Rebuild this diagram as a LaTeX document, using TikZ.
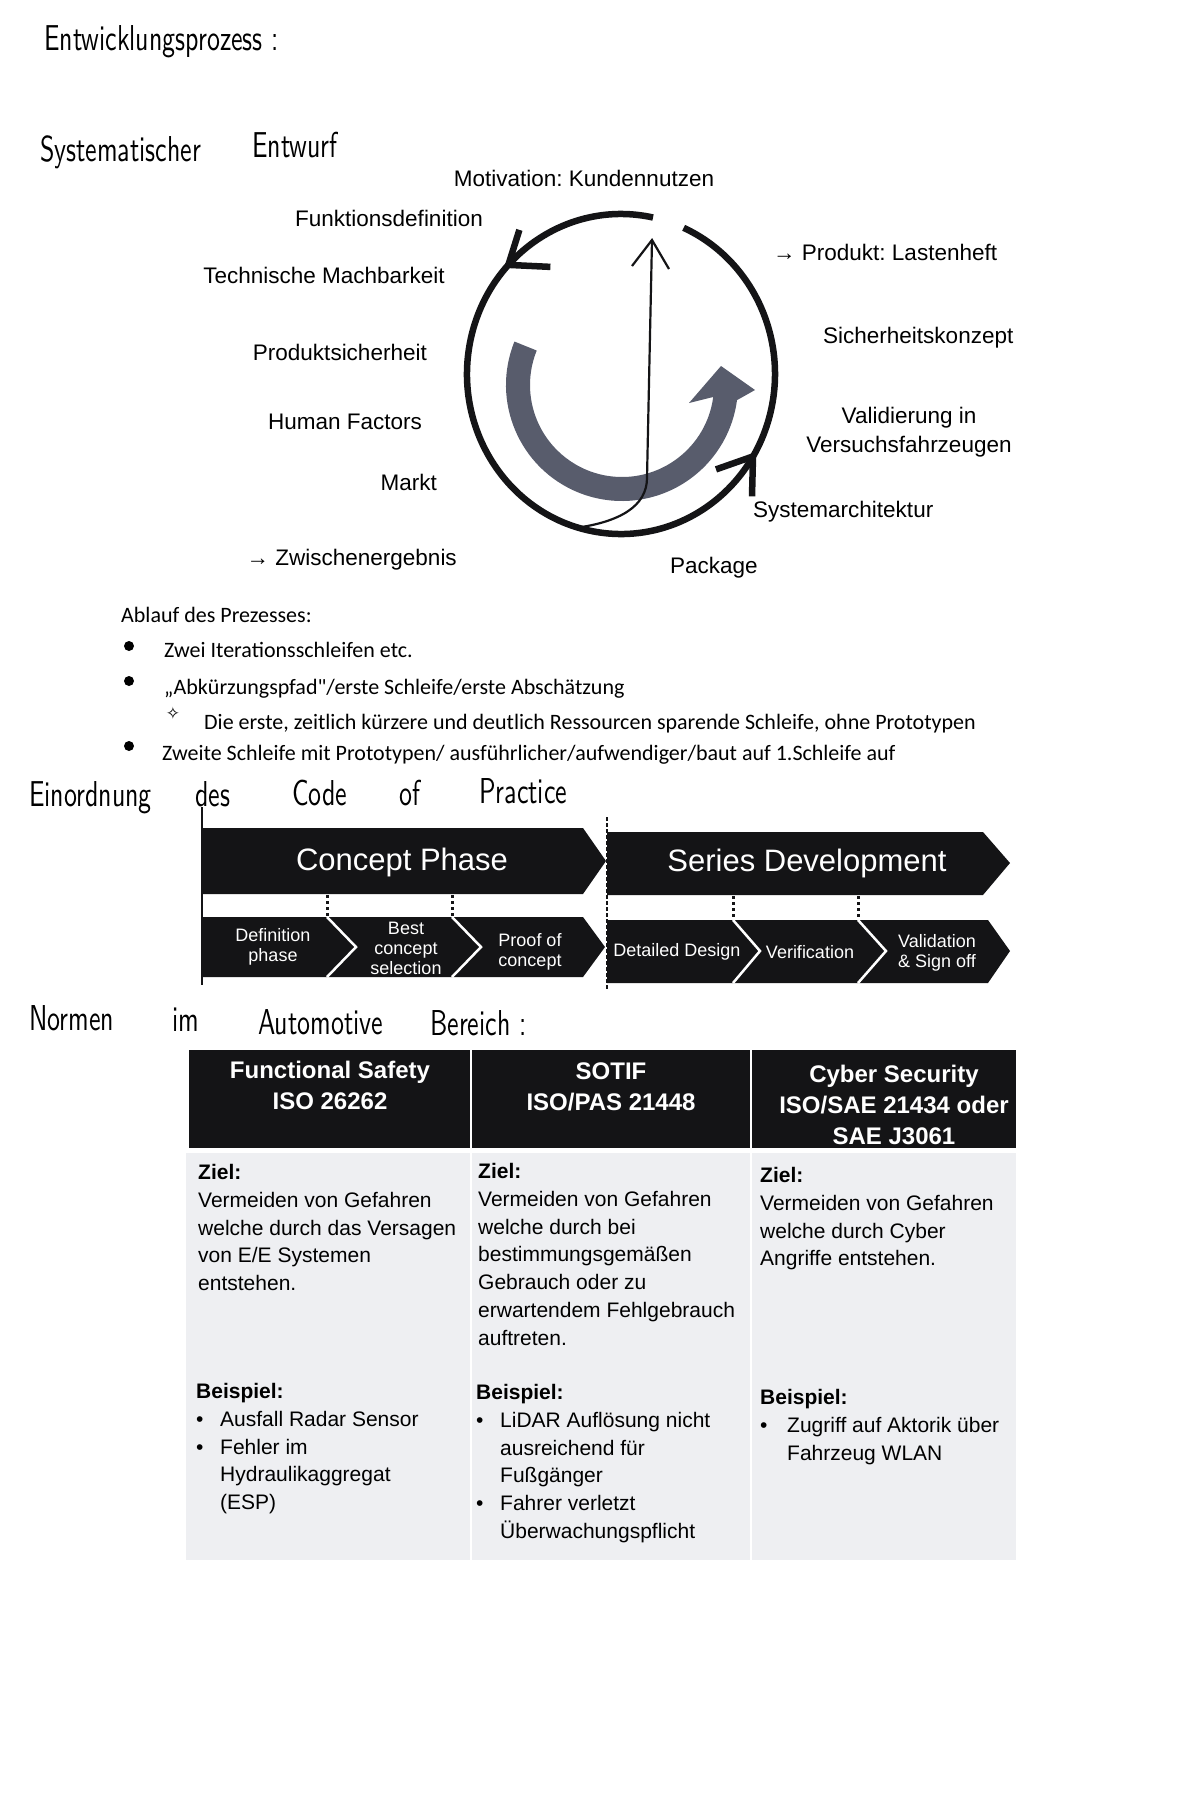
\documentclass[tikz,border=0pt]{standalone}
\usepackage{fontspec}
\setmainfont{Liberation Sans}
\newfontfamily\listfont{Carlito}
\newfontfamily\symfont{DejaVu Sans}
\newfontfamily\hand[FakeStretch=0.72]{lmsans10-regular.otf}
\usetikzlibrary{arrows.meta}
\definecolor{blk}{RGB}{20,20,22}
\definecolor{ucol}{RGB}{88,92,108}
\definecolor{bodyfill}{RGB}{238,239,242}
\frenchspacing
\begin{document}
\frenchspacing
\begin{tikzpicture}[x=1pt,y=1pt,
  hw/.style={font=\hand\fontsize{36}{40}\selectfont, inner sep=0pt, anchor=base west},
  lbl/.style={font=\fontsize{22.5}{29}\selectfont, inner sep=0pt},
  lst/.style={font=\listfont\fontsize{22}{26}\selectfont, inner sep=0pt, anchor=west},
  bul/.style={circle, fill=black, inner sep=0pt, minimum size=10pt},
  bigw/.style={font=\fontsize{31}{36}\selectfont, text=white, inner sep=0pt},
  smw/.style={font=\fontsize{18}{20}\selectfont, text=white, align=center, inner sep=0pt},
  hdr/.style={font=\bfseries\fontsize{24}{31}\selectfont, text=white, align=center, inner sep=0pt},
  cell/.style={font=\fontsize{21}{27.8}\selectfont, align=left, inner sep=0pt, anchor=north west},
  ring/.style={line width=6.5pt, draw=blk, line join=miter},
  thinl/.style={line width=2.2pt, draw=blk},
  sepw/.style={draw=white, line width=2.5pt},
  dotc/.style={draw=blk, line width=3pt, dash pattern=on 3pt off 3pt},
]
\path[use as bounding box, fill=white] (0,0) rectangle (1200,-1797);

% ---------- handwritten titles ----------
\node[hw] (t1) at (44,-50) {Entwicklungsprozess :};
\node[hw] (sys) at (40,-161) {Systematischer};
\node[hw] (ent) at (252,-157) {Entwurf};

% ---------- cycle diagram ----------
\coordinate (cc) at (621,-374);
\draw[ring] ([shift={(78:154 and 160)}]cc) arc[start angle=78,end angle=426,x radius=154,y radius=160];
\coordinate (tipA) at ([shift={(137:154 and 160)}]cc);
\draw[ring] ([shift={(42,-2)}]tipA) -- (tipA) -- ++(11,35);
\coordinate (tipB) at ([shift={(-31:154 and 160)}]cc);
\draw[ring] ([shift={(-37,-13)}]tipB) -- (tipB) -- ++(-1,-40);

\coordinate (uc) at (622,-385);
\fill[ucol] ([shift={(158:116)}]uc) arc[start angle=158,end angle=352.5,radius=116]
  -- (755,-390) -- (721,-366) -- (689,-403)
  -- ([shift={(352.5:92)}]uc) arc[start angle=352.5,end angle=158,radius=92] -- cycle;

\coordinate (ts) at (575,-528);
\coordinate (tt) at (652,-240);
\draw[thinl] (ts) .. controls (620,-522) and (647,-506) .. (647,-478) -- (tt);
\draw[thinl] ([shift={(-20,-26)}]tt) -- (tt) -- ++(17,-29);

\node[lbl] (mot) at (584,-178) {Motivation: Kundennutzen};
\node[lbl, anchor=east] (fkt) at (483,-218) {Funktionsdefinition};
\node[lbl, anchor=east] (tech) at (445,-275) {Technische Machbarkeit};
\node[lbl, anchor=east] (prod) at (427,-352) {Produktsicherheit};
\node[lbl, anchor=east] (hf) at (422,-422) {Human Factors};
\node[lbl, anchor=east] (markt) at (437,-482) {Markt};
\node[lbl, anchor=east] (zw) at (457,-560) {→ Zwischenergebnis};
\node[lbl, anchor=west] (lh) at (773,-252) {→ Produkt: Lastenheft};
\node[lbl, anchor=west] (sk) at (823,-338) {Sicherheitskonzept};
\node[lbl, align=center] (val) at (909,-432) {Validierung in\\Versuchsfahrzeugen};
\node[lbl, anchor=west] (sa) at (753,-512) {Systemarchitektur};
\node[lbl, anchor=west] (pk) at (670,-568) {Package};

% ---------- list ----------
\node[lst] (abl) at (121,-615) {Ablauf des Prezesses:};
\node[bul] (b1) at (129,-646) {};
\node[lst] (l1) at (164,-650) {Zwei Iterationsschleifen etc.};
\node[bul] (b2) at (129,-681) {};
\node[lst] (l2) at (164,-689) {„Abkürzungspfad"/erste Schleife/erste Abschätzung};
\node[font=\symfont\fontsize{17}{20}\selectfont, inner sep=0pt] (s1) at (173,-713) {✧};
\node[lst] (l3) at (204,-724) {Die erste, zeitlich kürzere und deutlich Ressourcen sparende Schleife, ohne Prototypen};
\node[bul] (b3) at (129,-746) {};
\node[lst] (l4) at (162,-755) {Zweite Schleife mit Prototypen/ ausführlicher/aufwendiger/baut auf 1.Schleife auf};

% ---------- Code of Practice ----------
\node[hw] (ein) at (29,-806) {Einordnung};
\node[hw] (des) at (195,-806) {des};
\node[hw] (code) at (292,-805) {Code};
\node[hw] (of) at (399,-805) {of};
\node[hw] (prac) at (479,-803) {Practice};

\draw[line width=2pt, draw=blk] (202,-807) -- (202,-985);
\draw[draw=blk, line width=1.3pt, dash pattern=on 4pt off 2pt] (607,-817) -- (607,-990);

\fill[blk] (202,-828) -- (583,-828) -- (606,-861) -- (583,-894) -- (202,-894) -- cycle;
\fill[blk] (607,-832) -- (983,-832) -- (1010,-863) -- (983,-895) -- (607,-895) -- cycle;
\node[bigw] (cp) at (402,-862) {Concept Phase};
\node[bigw] (sd) at (807,-863) {Series Development};

\draw[dotc] (327,-895) -- (327,-917);
\draw[dotc] (452,-895) -- (452,-917);
\draw[dotc] (733,-896) -- (733,-920);
\draw[dotc] (858,-896) -- (858,-920);

\fill[blk] (202,-917) -- (583,-917) -- (605,-947) -- (583,-977) -- (202,-977) -- cycle;
\draw[sepw] (327,-917) -- (356,-947) -- (327,-977);
\draw[sepw] (452,-917) -- (481,-947) -- (452,-977);
\fill[blk] (607,-920) -- (988,-920) -- (1010,-951) -- (988,-983) -- (607,-983) -- cycle;
\draw[sepw] (733,-920) -- (760,-951) -- (733,-983);
\draw[sepw] (858,-920) -- (886,-951) -- (858,-983);

\node[smw] (dp) at (273,-947) {Definition\\phase};
\node[smw] (bc) at (406,-948) {Best\\concept\\selection};
\node[smw] (pc) at (530,-952) {Proof of\\concept};
\node[smw] (dd) at (677,-952) {Detailed Design};
\node[smw] (ver) at (810,-952) {Verification};
\node[smw] (vs) at (937,-953) {Validation\\\& Sign off};

% ---------- Normen ----------
\node[hw] (nor) at (29,-1030) {Normen};
\node[hw] (im) at (172,-1031) {im};
\node[hw] (auto) at (258,-1034) {Automotive};
\node[hw] (ber) at (430,-1035) {Bereich :};

\fill[blk] (189,-1050) rectangle (1016,-1148);
\draw[sepw] (471,-1050) -- (471,-1148);
\draw[sepw] (751,-1050) -- (751,-1148);
\fill[bodyfill] (186,-1153) rectangle (1016,-1560);
\draw[draw=white, line width=2pt] (471,-1153) -- (471,-1560);
\draw[draw=white, line width=2pt] (751,-1153) -- (751,-1560);

\node[hdr] (h1) at (330,-1085) {Functional Safety\\ISO 26262};
\node[hdr] (h2) at (611,-1087) {SOTIF\\ISO/PAS 21448};
\node[hdr] (h3) at (894,-1105) {Cyber Security\\ISO/SAE 21434 oder\\SAE J3061};

\node[cell] (z1) at (198,-1164) {\textbf{Ziel:}\\Vermeiden von Gefahren\\welche durch das Versagen\\von E/E Systemen\\entstehen.};
\node[cell] (e1) at (196,-1383) {\textbf{Beispiel:}\\\makebox[24pt][l]{•}Ausfall Radar Sensor\\\makebox[24pt][l]{•}Fehler im\\\hspace*{24pt}Hydraulikaggregat\\\hspace*{24pt}(ESP)};
\node[cell] (z2) at (478,-1163) {\textbf{Ziel:}\\Vermeiden von Gefahren\\welche durch bei\\bestimmungsgemäßen\\Gebrauch oder zu\\erwartendem Fehlgebrauch\\auftreten.};
\node[cell] (e2) at (476,-1384) {\textbf{Beispiel:}\\\makebox[24pt][l]{•}LiDAR Auflösung nicht\\\hspace*{24pt}ausreichend für\\\hspace*{24pt}Fußgänger\\\makebox[24pt][l]{•}Fahrer verletzt\\\hspace*{24pt}Überwachungspflicht};
\node[cell] (z3) at (760,-1167) {\textbf{Ziel:}\\Vermeiden von Gefahren\\welche durch Cyber\\Angriffe entstehen.};
\node[cell] (e3) at (760,-1389) {\textbf{Beispiel:}\\\makebox[27pt][l]{•}Zugriff auf Aktorik über\\\hspace*{27pt}Fahrzeug WLAN};
\end{tikzpicture}
\end{document}
